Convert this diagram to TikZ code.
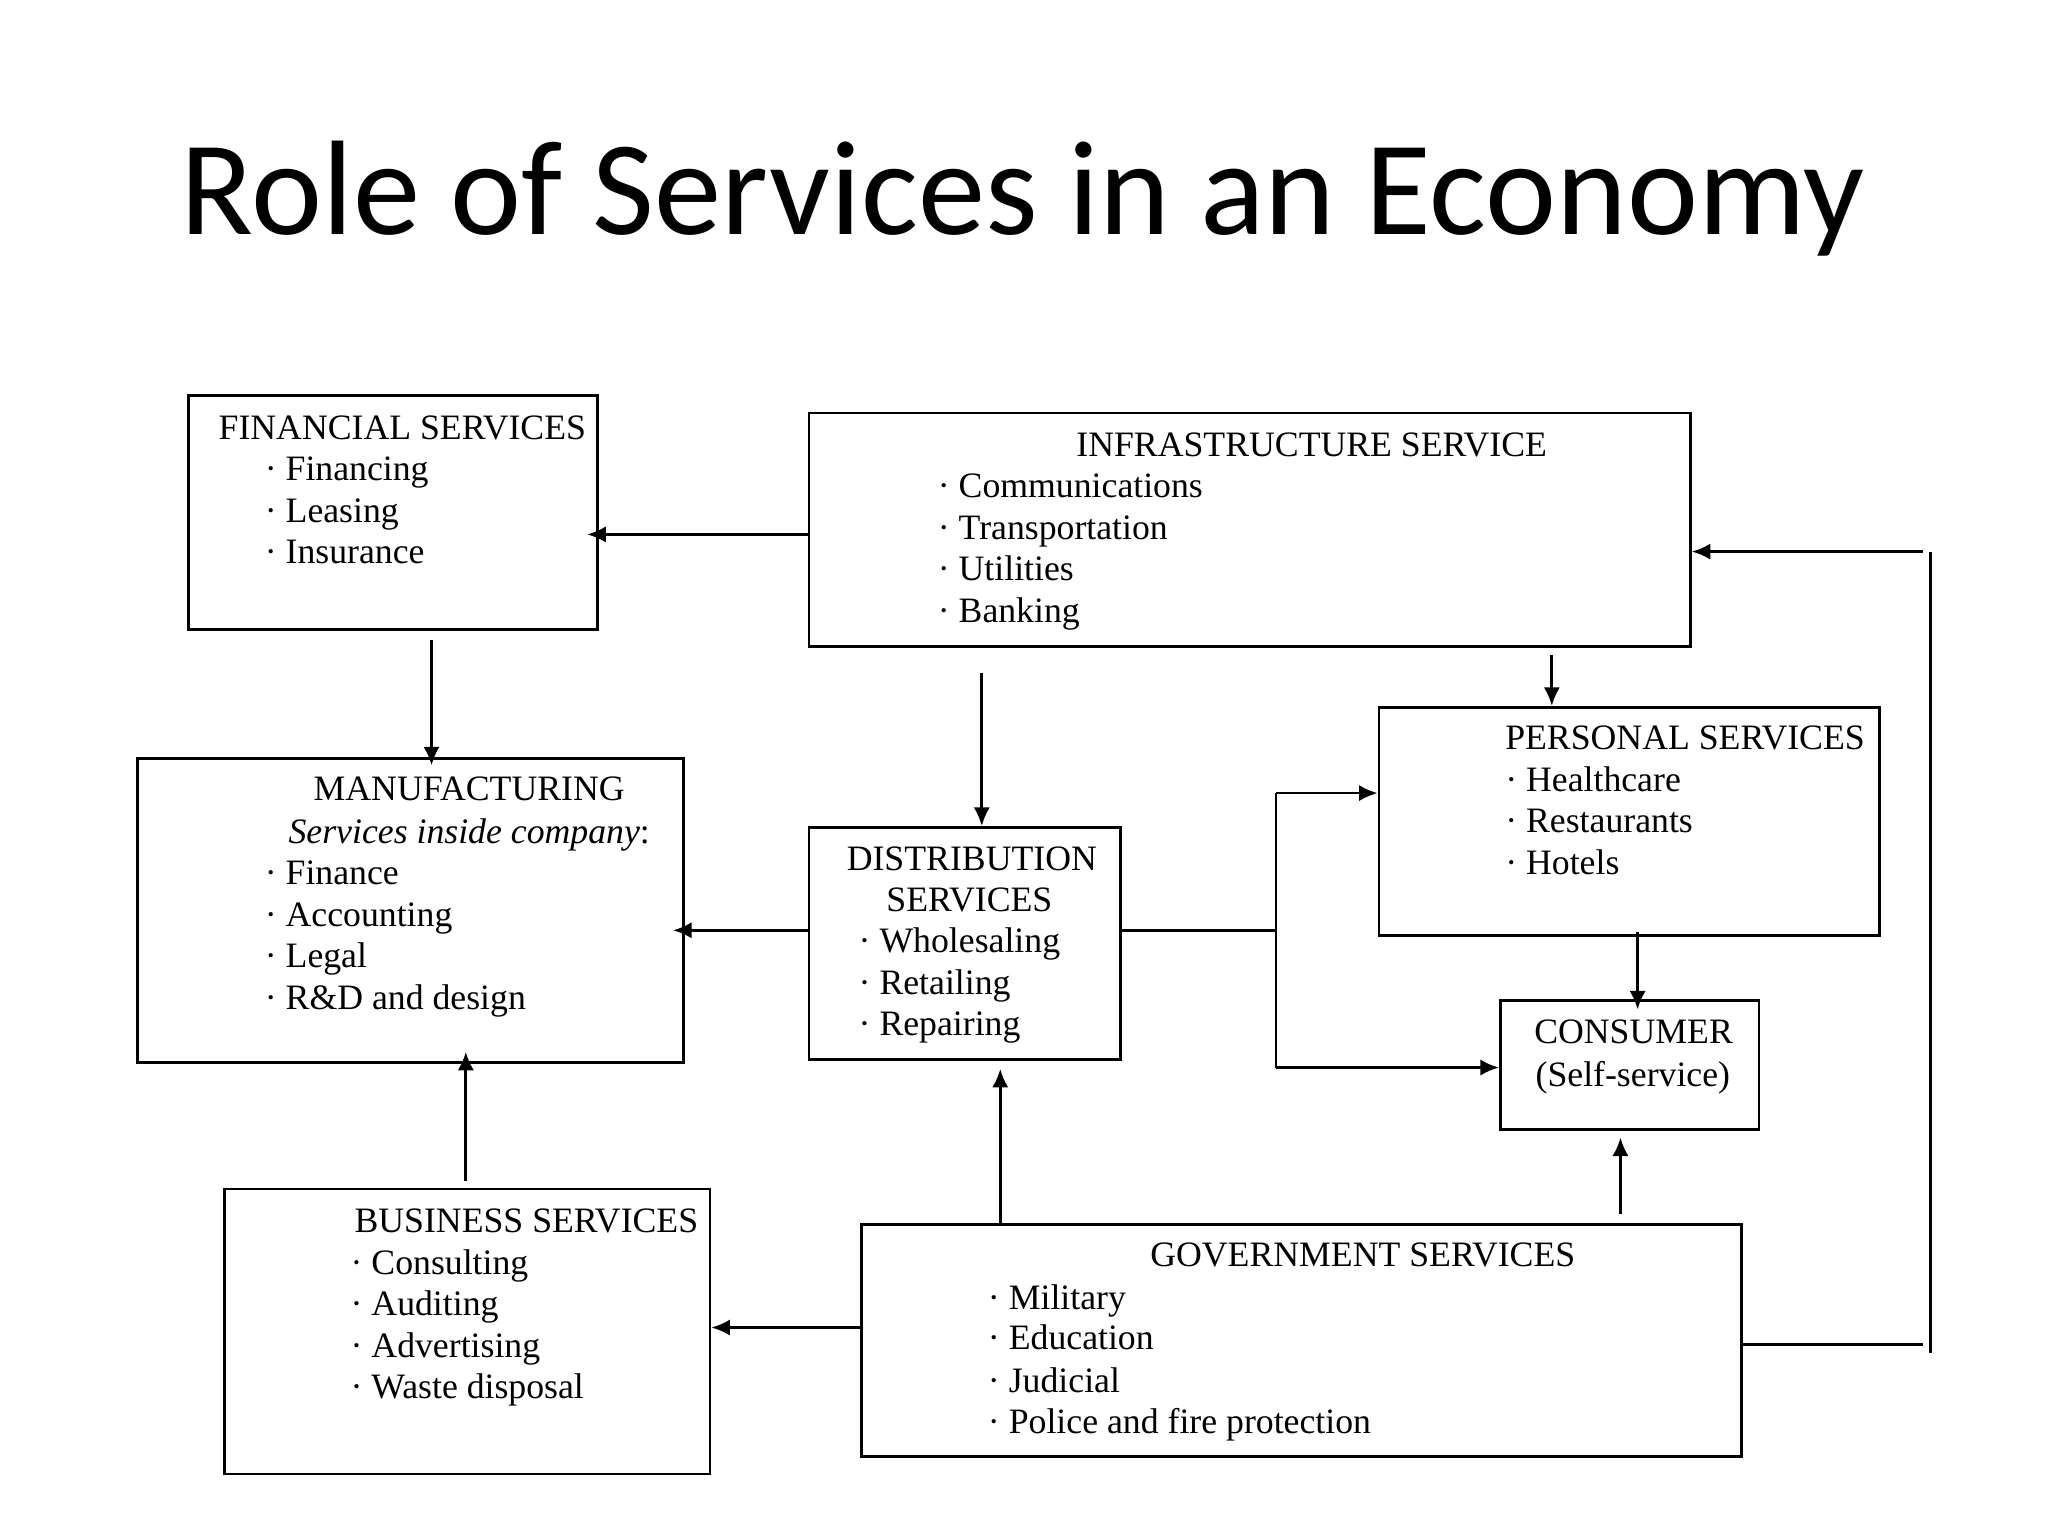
\documentclass[tikz,border=0pt]{standalone}
\usepackage{fontspec}
\setmainfont{Liberation Serif}
\newfontfamily\titlefont{Carlito}
\usetikzlibrary{fit,arrows.meta}
\begin{document}
\begin{tikzpicture}[x=0.01cm,y=-0.01cm,
  box/.style={draw,line width=0.6pt,inner sep=0pt},
  txt/.style={anchor=base west,inner sep=0pt,font=\fontsize{7.7}{9}\selectfont},
  arr/.style={line width=0.6pt,-{Latex[length=4pt,width=3.5pt]}},
  ln/.style={line width=0.6pt}]
\useasboundingbox (0,0) rectangle (1552,1164);
\node[anchor=base,inner sep=0pt,font=\titlefont\fontsize{29}{34}\selectfont] (title) at (775,178) {Role of Services in an Economy};
% boxes
\node[box,fit={(143,300)(453,477)}] (fin) {};
\node[box,fit={(613,313)(1281,490)}] (inf) {};
\node[box,fit={(104,575)(518,805)}] (man) {};
\node[box,fit={(613,627)(849,803)}] (dis) {};
\node[box,fit={(1045,536)(1424,709)}] (per) {};
\node[box,fit={(1137,758)(1333,856)}] (con) {};
\node[box,fit={(170,901)(538,1117)}] (bus) {};
\node[box,fit={(653,928)(1320,1104)}] (gov) {};
% texts
\newcommand\itm{\textperiodcentered\ }
\node[txt] (t1) at (165,333) {FINANCIAL SERVICES};
\node[txt] (t2) at (200,364) {\itm Financing};
\node[txt] (t3) at (200,396) {\itm Leasing};
\node[txt] (t4) at (200,427) {\itm Insurance};
\node[txt] (t5) at (815,346) {INFRASTRUCTURE SERVICE};
\node[txt] (t6) at (710,377) {\itm Communications};
\node[txt] (t7) at (710,409) {\itm Transportation};
\node[txt] (t8) at (710,440) {\itm Utilities};
\node[txt] (t9) at (710,472) {\itm Banking};
\node[txt] (t10) at (237,607) {MANUFACTURING};
\node[txt] (t11) at (218,639) {\itshape Services inside company\upshape:};
\node[txt] (t12) at (200,670) {\itm Finance};
\node[txt] (t13) at (200,702) {\itm Accounting};
\node[txt] (t14) at (200,733) {\itm Legal};
\node[txt] (t15) at (200,765) {\itm R\&D and design};
\node[txt] (t16) at (641,660) {DISTRIBUTION};
\node[txt] (t17) at (671,691) {SERVICES};
\node[txt] (t18) at (650,722) {\itm Wholesaling};
\node[txt] (t19) at (650,754) {\itm Retailing};
\node[txt] (t20) at (650,785) {\itm Repairing};
\node[txt] (t21) at (1140,568) {PERSONAL SERVICES};
\node[txt] (t22) at (1140,600) {\itm Healthcare};
\node[txt] (t23) at (1140,631) {\itm Restaurants};
\node[txt] (t24) at (1140,663) {\itm Hotels};
\node[txt] (t25) at (1162,791) {CONSUMER};
\node[txt] (t26) at (1163,823) {(Self-service)};
\node[txt] (t27) at (268,934) {BUSINESS SERVICES};
\node[txt] (t28) at (265,966) {\itm Consulting};
\node[txt] (t29) at (265,997) {\itm Auditing};
\node[txt] (t30) at (265,1029) {\itm Advertising};
\node[txt] (t31) at (265,1060) {\itm Waste disposal};
\node[txt] (t32) at (871,960) {GOVERNMENT SERVICES};
\node[txt] (t33) at (748,992) {\itm Military};
\node[txt] (t34) at (748,1023) {\itm Education};
\node[txt] (t35) at (748,1055) {\itm Judicial};
\node[txt] (t36) at (748,1086) {\itm Police and fire protection};
% connectors
\coordinate (c1) at (445,405);
\coordinate (c2) at (327,485);
\coordinate (c3) at (327,580);
\coordinate (c4) at (744,510);
\coordinate (c5) at (1176,496);
\coordinate (c6) at (510,705);
\coordinate (c7) at (967,705);
\coordinate (c8) at (1241,706);
\coordinate (c9) at (758,810);
\coordinate (c10) at (1228,920);
\coordinate (c11) at (1228,862);
\coordinate (c12) at (353,895);
\coordinate (c13) at (353,797);
\coordinate (c14) at (1463,1019);
\coordinate (c15) at (1463,1025);
\coordinate (c16) at (1457,418);
\coordinate (c17) at (1463,418);
\draw[arr] (inf.west |- c1) -- (c1);
\draw[arr] (c2) -- (c3);
\draw[arr] (c4) -- (c4 |- dis.north);
\draw[arr] (c5) -- (c5 |- per.north);
\draw[arr] (dis.west |- c6) -- (c6);
\draw[ln] (dis.east |- c7) -- (c7);
\draw[arr] (c7 |- 0,809) -- (con.west |- 0,809);
\draw[arr] (c7 |- 0,601) -- (c7 |- 0,809) (c7 |- 0,601) -- (per.west |- 0,601);
\draw[arr] (c8) -- (c8 |- 0,765);
\draw[arr] (c9 |- gov.north) -- (c9);
\draw[arr] (c10) -- (c11);
\draw[arr] (gov.west |- 0,1006) -- (bus.east |- 0,1006);
\draw[arr] (c12) -- (c13);
\draw[ln] (gov.east |- c14) -- (1457,1019);
\draw[ln] (c15) -- (c17);
\draw[arr] (c16) -- (inf.east |- c16);
\end{tikzpicture}
\end{document}
